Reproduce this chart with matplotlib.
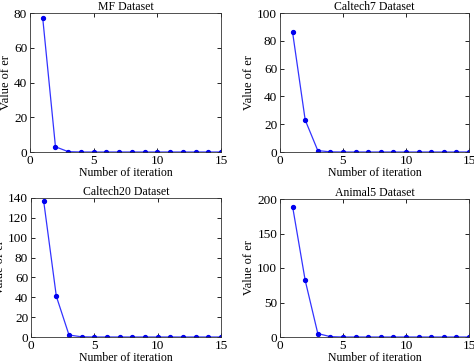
import numpy as np
import matplotlib.pyplot as plt

plt.rcParams['font.family'] = ['Liberation Serif', 'DejaVu Serif']
plt.rcParams['font.size'] = 8.5

iterations = list(range(1, 16))
titles = ["MF Dataset", "Caltech7 Dataset", "Caltech20 Dataset", "Animal5 Dataset"]
er_mf = [77, 3, 0.2, 0, 0, 0, 0, 0, 0, 0, 0, 0, 0, 0, 0]
er_caltech7 = [86, 23, 1, 0.1, 0, 0, 0, 0, 0, 0, 0, 0, 0, 0, 0]
er_caltech20 = [137, 41, 2, 0.2, 0, 0, 0, 0, 0, 0, 0, 0, 0, 0, 0]
er_animal5 = [189, 82, 5, 0.5, 0, 0, 0, 0, 0, 0, 0, 0, 0, 0, 0]
y_limits = [80, 100, 140, 200]
y_ticks = [
    [0, 20, 40, 60, 80],
    [0, 20, 40, 60, 80, 100],
    [0, 20, 40, 60, 80, 100, 120, 140],
    [0, 50, 100, 150, 200],
]
series = [er_mf, er_caltech7, er_caltech20, er_animal5]

W, H = 474, 364
fig = plt.figure(figsize=(W / 100, H / 100), dpi=100)

# axes boxes in pixels: left, top, right, bottom
boxes = [
    (30, 13, 221, 152),
    (280, 13, 469, 152),
    (31, 198, 221, 337),
    (280, 199, 469, 337),
]

for box, title, vals, ymax, yt in zip(boxes, titles, series, y_limits, y_ticks):
    l, t, r, b = box
    ax = fig.add_axes([l / W, 1 - b / H, (r - l) / W, (b - t) / H])
    ax.plot(iterations, vals, color="#3333ff", lw=0.9, marker="o",
            markersize=2.8, markerfacecolor="#0000ee", markeredgecolor="#0000ee")
    ax.set_xlim(0, 15)
    ax.set_ylim(0, ymax)
    ax.set_xticks([0, 5, 10, 15])
    ax.set_yticks(yt)
    ax.tick_params(direction="in", top=True, right=True, length=3,
                   width=0.6, pad=2, labelsize=9.5)
    for s in ax.spines.values():
        s.set_linewidth(0.6)
        s.set_color("#333333")
    ax.set_title(title, fontsize=8.5, pad=2)
    ax.set_xlabel("Number of iteration", fontsize=8.5, labelpad=0)
    ax.set_ylabel("Value of er", fontsize=9, labelpad=1.5)

fig.savefig("out.png", dpi=100)
